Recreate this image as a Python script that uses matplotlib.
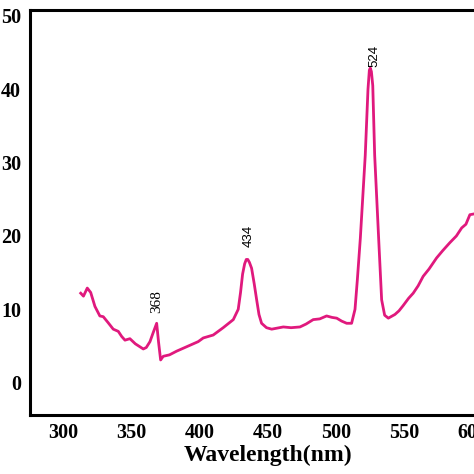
import numpy as np
import matplotlib
matplotlib.use("Agg")
import matplotlib.pyplot as plt

# spectrum
wavelength = [313, 315, 317.8, 320.3, 323.4, 327, 329.5, 333, 336.8, 340.5,
              343, 345.4, 349, 353, 358.8, 361, 363.7, 366, 368.6, 370,
              371.5, 373.4, 378, 383.2, 390.5, 399, 402.7, 410, 417.3, 424.7,
              428.3, 430, 431.5, 433, 434.2, 435.3, 436.5, 438.1, 440, 441.8,
              443.5, 445.4, 449, 452.8, 461.3, 467, 473.5, 478, 483.2, 488,
              493, 497, 500.4, 504, 507.7, 511.3, 513.8, 515.5, 517.7, 521.3,
              523.3, 524.3, 525, 525.8, 526.8, 528.2, 531.1, 533.3, 535.5, 538.2,
              543, 546, 549, 553, 556.4, 560, 563.7, 568, 573.5, 578,
              583.3, 588, 591.9, 595, 597.9, 600.8]
intensity = [12.2, 11.8, 12.9, 12.3, 10.4, 9.1, 9.0, 8.2, 7.3, 7.0,
             6.3, 5.8, 6.0, 5.3, 4.6, 4.8, 5.6, 6.8, 8.1, 5.5,
             3.1, 3.6, 3.8, 4.3, 4.9, 5.6, 6.1, 6.5, 7.5, 8.6,
             10.0, 12.3, 14.8, 16.2, 16.8, 16.8, 16.4, 15.6, 13.5, 11.3,
             9.3, 8.1, 7.5, 7.3, 7.6, 7.5, 7.6, 8.0, 8.6, 8.7,
             9.1, 8.9, 8.8, 8.4, 8.1, 8.1, 10.0, 14.0, 19.7, 31.0,
             40.0, 42.6, 42.9, 42.4, 40.5, 31.0, 19.7, 11.3, 9.2, 8.8,
             9.3, 9.8, 10.5, 11.5, 12.2, 13.2, 14.5, 15.5, 17.0, 18.0,
             19.1, 20.0, 21.1, 21.6, 22.9, 23.0]

peak_labels = ["368", "434", "524"]
label_x = [368.6, 435.7, 527.7]
label_y = [11.1, 20.0, 44.5]
label_fonts = ["Liberation Serif", "Liberation Sans", "Liberation Sans"]
label_sizes = [11, 9.5, 9.5]

xticks = [300, 350, 400, 450, 500, 550, 600]
yticks = [0, 10, 20, 30, 40, 50]

fig = plt.figure(figsize=(4.74, 4.74), dpi=100)
# axes run past the right edge, like the cropped original
ax = fig.add_axes([29.5 / 474, 59 / 474, 477.4 / 474, 405 / 474])

ax.plot(wavelength, intensity, color="#e0197d", lw=2.0)

for t, x, y, f, s in zip(peak_labels, label_x, label_y, label_fonts, label_sizes):
    ax.text(x, y, t, rotation=90, ha="center", va="center", fontsize=s, family=f)

ax.set_xlim(275.5, 625)
ax.set_ylim(-4.4, 50.8)
ax.set_xticks(xticks)
ax.set_yticks(yticks)
ax.tick_params(length=0, labelsize=14.5)
ax.tick_params(axis="x", pad=6)
ax.tick_params(axis="y", pad=6)
for lab in ax.get_xticklabels() + ax.get_yticklabels():
    lab.set_family("Liberation Serif")
    lab.set_fontweight("bold")

for side in ["left", "bottom", "top"]:
    ax.spines[side].set_linewidth(2.2)
ax.spines["right"].set_visible(False)

ax.set_xlabel("Wavelength(nm)", family="Liberation Serif", fontweight="bold",
              fontsize=17, labelpad=1)

fig.savefig("out.png", dpi=100)
